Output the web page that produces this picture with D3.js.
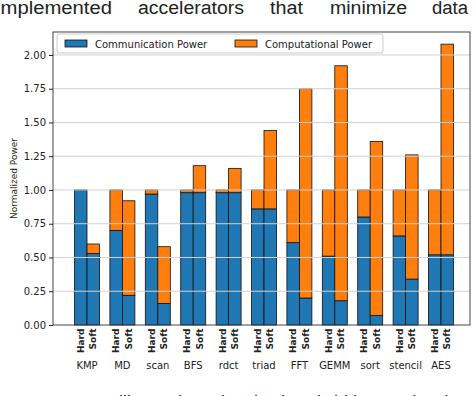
<!DOCTYPE html>
<meta charset="utf-8">
<html>
  <head>
    <style>
      body { margin: 0; background: #fff; }
      text { font-family: "DejaVu Sans", sans-serif; fill: #222; }
      text.page { font-family: "Liberation Sans", Arial, sans-serif; font-size: 18px; fill: #222; }
      .bar { stroke: #111; stroke-width: 0.8px; }
      .grid line { stroke: #d2d2d2; stroke-width: 1px; }
    </style>
    <script src="https://d3js.org/d3.v7.min.js"></script>
  </head>
  <body>
    <div id="chart"></div>
    <script type="text/javascript">
      var benchmarks = ["KMP", "MD", "scan", "BFS", "rdct", "triad", "FFT", "GEMM", "sort", "stencil", "AES"],
          modes = ["Hard", "Soft"],
          hardComm = [1.00, 0.70, 0.97, 0.98, 0.98, 0.86, 0.61, 0.51, 0.80, 0.66, 0.52],
          hardComp = [0.00, 0.30, 0.03, 0.02, 0.02, 0.14, 0.39, 0.49, 0.20, 0.34, 0.48],
          softComm = [0.53, 0.22, 0.16, 0.98, 0.98, 0.86, 0.20, 0.18, 0.07, 0.34, 0.52],
          softComp = [0.07, 0.70, 0.42, 0.20, 0.18, 0.58, 1.55, 1.74, 1.29, 0.92, 1.56],
          yTicks = [0, 0.25, 0.5, 0.75, 1.0, 1.25, 1.5, 1.75, 2.0],
          seriesNames = ["Communication Power", "Computational Power"],
          colors = ["#1f77b4", "#ff7f0e"];

      var W = 474, H = 396,
          plot = { left: 53, right: 470, top: 32, bottom: 325 };

      var svg = d3.select("#chart").append("svg")
          .attr("width", W)
          .attr("height", H);

      // surrounding page text (justified line), cut off by the crop
      var topWords = [["implemented", -4, 116], ["accelerators", 138, 106], ["that", 270, 33], ["minimize", 330, 77], ["data", 432, 36]];
      svg.selectAll(".topWord")
          .data(topWords)
          .enter().append("text")
            .attr("class", "page")
            .attr("x", function(d) { return d[1]; })
            .attr("y", 13.5)
            .attr("textLength", function(d) { return d[2]; })
            .attr("lengthAdjust", "spacingAndGlyphs")
            .text(function(d) { return d[0]; });

      svg.append("text")
          .attr("class", "page")
          .attr("x", 104)
          .attr("y", 408)
          .attr("word-spacing", "18px")
          .text("utilize the local bandwidth and the");

      var y = d3.scaleLinear()
          .domain([0, 2.17])
          .range([plot.bottom, plot.top]);

      var xg = d3.scaleBand()
          .domain(benchmarks)
          .range([69.3, 458.7]);

      var xs = d3.scaleBand()
          .domain(modes)
          .range([-12.5, 12.5]);

      function cx(b) { return xg(b) + xg.bandwidth() / 2; }

      // flatten into bar records
      var bars = [];
      benchmarks.forEach(function(b, i) {
        bars.push({ bench: b, mode: "Hard", comm: hardComm[i], comp: hardComp[i] });
        bars.push({ bench: b, mode: "Soft", comm: softComm[i], comp: softComp[i] });
      });

      var g = svg.append("g");

      g.selectAll(".comm")
          .data(bars)
          .enter().append("rect")
            .attr("class", "bar comm")
            .attr("x", function(d) { return cx(d.bench) + xs(d.mode); })
            .attr("width", xs.bandwidth())
            .attr("y", function(d) { return y(d.comm); })
            .attr("height", function(d) { return y(0) - y(d.comm); })
            .style("fill", colors[0]);

      g.selectAll(".comp")
          .data(bars.filter(function(d) { return d.comp > 0; }))
          .enter().append("rect")
            .attr("class", "bar comp")
            .attr("x", function(d) { return cx(d.bench) + xs(d.mode); })
            .attr("width", xs.bandwidth())
            .attr("y", function(d) { return y(d.comm + d.comp); })
            .attr("height", function(d) { return y(d.comm) - y(d.comm + d.comp); })
            .style("fill", colors[1]);

      // grid drawn over the bars, like the original
      svg.append("g")
          .attr("class", "grid")
          .selectAll("line")
          .data(yTicks.slice(1))
          .enter().append("line")
            .attr("x1", plot.left)
            .attr("x2", plot.right)
            .attr("y1", function(d) { return y(d); })
            .attr("y2", function(d) { return y(d); });

      // frame
      svg.append("rect")
          .attr("x", plot.left)
          .attr("y", plot.top)
          .attr("width", plot.right - plot.left)
          .attr("height", plot.bottom - plot.top)
          .style("fill", "none")
          .style("stroke", "#444")
          .style("stroke-width", 1);

      var yAxis = svg.append("g")
          .attr("transform", "translate(" + plot.left + ",0)")
          .call(d3.axisLeft(y).tickValues(yTicks).tickFormat(d3.format(".2f")).tickSize(4).tickPadding(3));
      yAxis.select(".domain").remove();
      yAxis.selectAll("text").style("font-size", "10px").style("font-family", "DejaVu Sans").style("fill", "#222");
      yAxis.selectAll("line").style("stroke", "#222");

      svg.append("text")
          .attr("transform", "translate(17," + (plot.top + plot.bottom) / 2 + ") rotate(-90)")
          .style("text-anchor", "middle")
          .style("font-size", "9px")
          .text("Normalized Power");

      // Hard / Soft labels
      svg.selectAll(".modeLabel")
          .data(bars)
          .enter().append("text")
            .attr("class", "modeLabel")
            .attr("transform", function(d) {
              return "translate(" + (cx(d.bench) + xs(d.mode) + xs.bandwidth() / 2) + "," + (plot.bottom + 3.5) + ") rotate(-90)";
            })
            .attr("dy", "0.35em")
            .style("text-anchor", "end")
            .style("font-size", "9px")
            .style("font-weight", "bold")
            .text(function(d) { return d.mode; });

      svg.selectAll(".benchLabel")
          .data(benchmarks)
          .enter().append("text")
            .attr("class", "benchLabel")
            .attr("x", function(d) { return cx(d); })
            .attr("y", 369)
            .style("text-anchor", "middle")
            .style("font-size", "10px")
            .text(function(d) { return d; });

      // legend
      var legend = svg.append("g").attr("transform", "translate(57,34)");
      legend.append("rect")
          .attr("width", 326)
          .attr("height", 19)
          .attr("rx", 2)
          .style("fill", "#fff")
          .style("fill-opacity", 0.8)
          .style("stroke", "#ccc");

      var items = legend.selectAll(".legendItem")
          .data(seriesNames)
          .enter().append("g")
            .attr("class", "legendItem")
            .attr("transform", function(d, i) { return "translate(" + [8, 178][i] + ",0)"; });
      items.append("rect")
          .attr("class", "bar")
          .attr("y", 6)
          .attr("width", 22)
          .attr("height", 7)
          .style("fill", function(d, i) { return colors[i]; });
      items.append("text")
          .attr("x", 30)
          .attr("y", 13.5)
          .style("font-size", "10px")
          .text(function(d) { return d; });
    </script>
  </body>
</html>
